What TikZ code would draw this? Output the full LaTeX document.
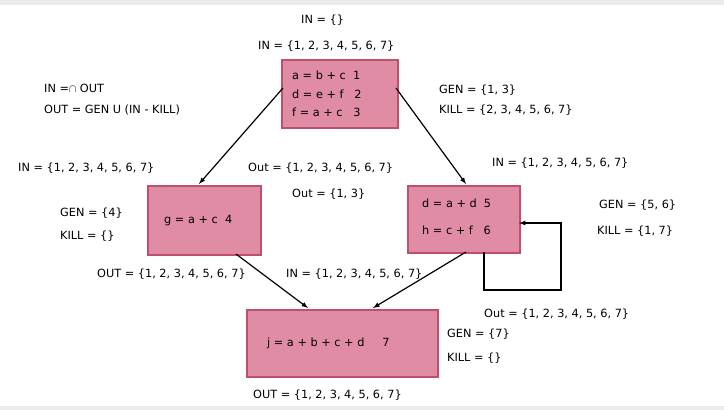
\documentclass[tikz,border=0pt]{standalone}
\usepackage{fontspec}
\setmainfont{DejaVu Sans}
\begin{document}
\begin{tikzpicture}[x=1pt,y=-1pt,
  blk/.style={draw={rgb,255:red,190;green,80;blue,110},line width=1.5pt,fill={rgb,255:red,224;green,140;blue,164},inner sep=0pt,anchor=north west},
  lab/.style={font=\fontsize{11.3}{13}\selectfont,inner sep=0pt,anchor=west},
  arr/.style={-latex,line width=1.2pt}]
\useasboundingbox (0,0) rectangle (724,410);
\fill[black!8] (0,0) rectangle (724,5);
\fill[black!8] (0,406) rectangle (724,410);
\node[blk,minimum width=116pt,minimum height=68pt] (top) at (281,59) {};
\node[lab] at (292,75) {a = b + c\ \ 1};
\node[lab] at (292,94) {d = e + f\ \ \ 2};
\node[lab] at (292,112) {f = a + c\ \ \ 3};
\node[blk,minimum width=113pt,minimum height=69pt] (left) at (147,185) {};
\node[lab] at (164,221) {g = a + c\ \ 4};
\node[blk,minimum width=112pt,minimum height=67pt] (right) at (407,185) {};
\node[lab] at (422,203) {d = a + d\ \ 5};
\node[lab] at (422,230) {h = c + f\ \ \ 6};
\node[blk,minimum width=191pt,minimum height=67pt] (bot) at (246,309) {};
\node[lab] at (267,343) {j = a + b + c + d\ \ \ \ \ 7};
\coordinate (t1) at (283,88); \coordinate (l1) at (199,184);
\coordinate (t2) at (396,88); \coordinate (r1) at (466,184);
\coordinate (l2) at (236,254); \coordinate (b1) at (308,308);
\coordinate (r2) at (466,252); \coordinate (b2) at (373,308);
\coordinate (r3) at (484,252); \coordinate (r4) at (519,223);
\draw[arr] (t1) -- (l1);
\draw[arr] (t2) -- (r1);
\draw[arr] (l2) -- (b1);
\draw[arr] (r2) -- (b2);
\draw[arr] (r3) |- (561,290) |- (r4);
\node[lab] at (301,20) {IN = \{\}};
\node[lab] at (258,46) {IN = \{1, 2, 3, 4, 5, 6, 7\}};
\node[lab] at (44,88) {IN =$\cap$ OUT};
\node[lab] at (44,110) {OUT = GEN U (IN - KILL)};
\node[lab] at (439,90) {GEN = \{1, 3\}};
\node[lab] at (439,110) {KILL = \{2, 3, 4, 5, 6, 7\}};
\node[lab] at (18,168) {IN = \{1, 2, 3, 4, 5, 6, 7\}};
\node[lab] at (248,168) {Out = \{1, 2, 3, 4, 5, 6, 7\}};
\node[lab] at (292,194) {Out = \{1, 3\}};
\node[lab] at (492,163) {IN = \{1, 2, 3, 4, 5, 6, 7\}};
\node[lab] at (60,213) {GEN = \{4\}};
\node[lab] at (60,236) {KILL = \{\}};
\node[lab] at (599,205) {GEN = \{5, 6\}};
\node[lab] at (597,231) {KILL = \{1, 7\}};
\node[lab] at (97,274) {OUT = \{1, 2, 3, 4, 5, 6, 7\}};
\node[lab] at (286,274) {IN = \{1, 2, 3, 4, 5, 6, 7\}};
\node[lab] at (484,314) {Out = \{1, 2, 3, 4, 5, 6, 7\}};
\node[lab] at (447,334) {GEN = \{7\}};
\node[lab] at (447,358) {KILL = \{\}};
\node[lab] at (253,395) {OUT = \{1, 2, 3, 4, 5, 6, 7\}};
\end{tikzpicture}
\end{document}
